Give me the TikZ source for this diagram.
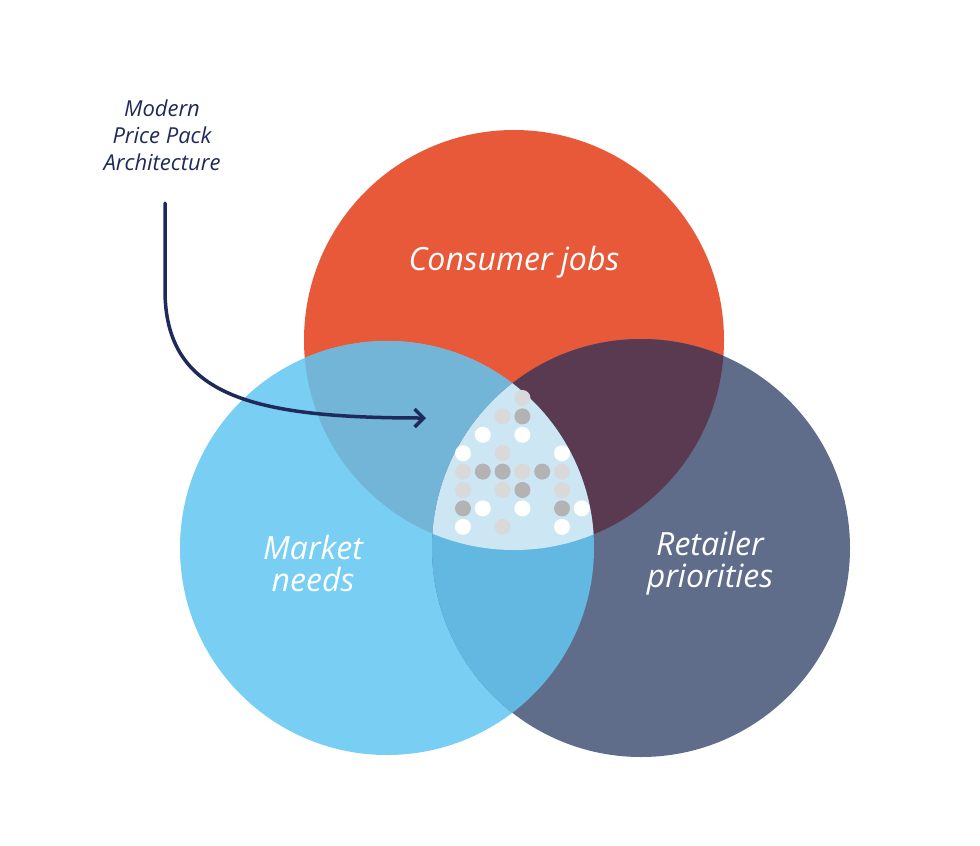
\documentclass[tikz,border=0pt]{standalone}
\usepackage{fontspec}
\setmainfont{Open Sans}
\usetikzlibrary{arrows.meta}
\definecolor{cor}{HTML}{E8593A}
\definecolor{cbl}{HTML}{79CEF3}
\definecolor{cdk}{HTML}{5F6C8A}
\definecolor{cob}{HTML}{72B5D6}
\definecolor{cod}{HTML}{5A3A50}
\definecolor{cbd}{HTML}{63B8E2}
\definecolor{cc}{HTML}{CDE6F3}
\definecolor{cnavy}{HTML}{1F2A5A}
\definecolor{dl}{HTML}{D9D9D9}
\definecolor{dg}{HTML}{B3B3B3}
\begin{document}
\begin{tikzpicture}[x=1pt,y=-1pt,
  lbl/.style={text=white,font=\fontsize{32}{36}\selectfont\itshape,align=center},
  dw/.style={fill=white},dlt/.style={fill=dl},dgr/.style={fill=dg}]
\useasboundingbox (0,0) rectangle (980,846);
\def\O{(514,340) circle (210)}
\def\B{(387,548) circle (207)}
\def\D{(641,548) circle (209)}
\fill[cor] \O; \fill[cbl] \B; \fill[cdk] \D;
\begin{scope}\clip \O; \fill[cob] \B; \fill[cod] \D; \end{scope}
\begin{scope}\clip \B; \fill[cbd] \D; \end{scope}
\begin{scope}\clip \O; \clip \B; \fill[cc] \D; \end{scope}
\foreach \c/\r/\s in {3/0/dlt,2/1/dlt,3/1/dgr,1/2/dw,3/2/dw,0/3/dw,2/3/dlt,5/3/dw,
 0/4/dlt,1/4/dgr,2/4/dgr,3/4/dlt,4/4/dgr,5/4/dlt,0/5/dlt,2/5/dlt,3/5/dgr,5/5/dlt,
 0/6/dgr,1/6/dw,3/6/dw,5/6/dgr,6/6/dw,0/7/dw,2/7/dlt,5/7/dw}
  \fill[\s] ({463+19.8*\c},{398+18.4*\r}) circle (8);
\node[lbl] (cj) at (514,262) {Consumer jobs};
\node[lbl] (mn) at (313,563) {Market\\[-4pt]needs};
\node[lbl] (rp) at (710,563) {Retailer\\[-4pt]priorities};
\node[text=cnavy,font=\fontsize{22}{27}\selectfont\itshape,align=center] (mp) at (162,135) {Modern\\Price Pack\\Architecture};
\coordinate (s) at (165,203);
\coordinate (e) at (426,418);
\draw[cnavy,line width=3.5pt,line cap=round,-{Straight Barb[length=9pt,width=18pt,line width=3.5pt]}] (s) -- (165,290) .. controls (165,395) and (250,418) .. (e);
\end{tikzpicture}
\end{document}
